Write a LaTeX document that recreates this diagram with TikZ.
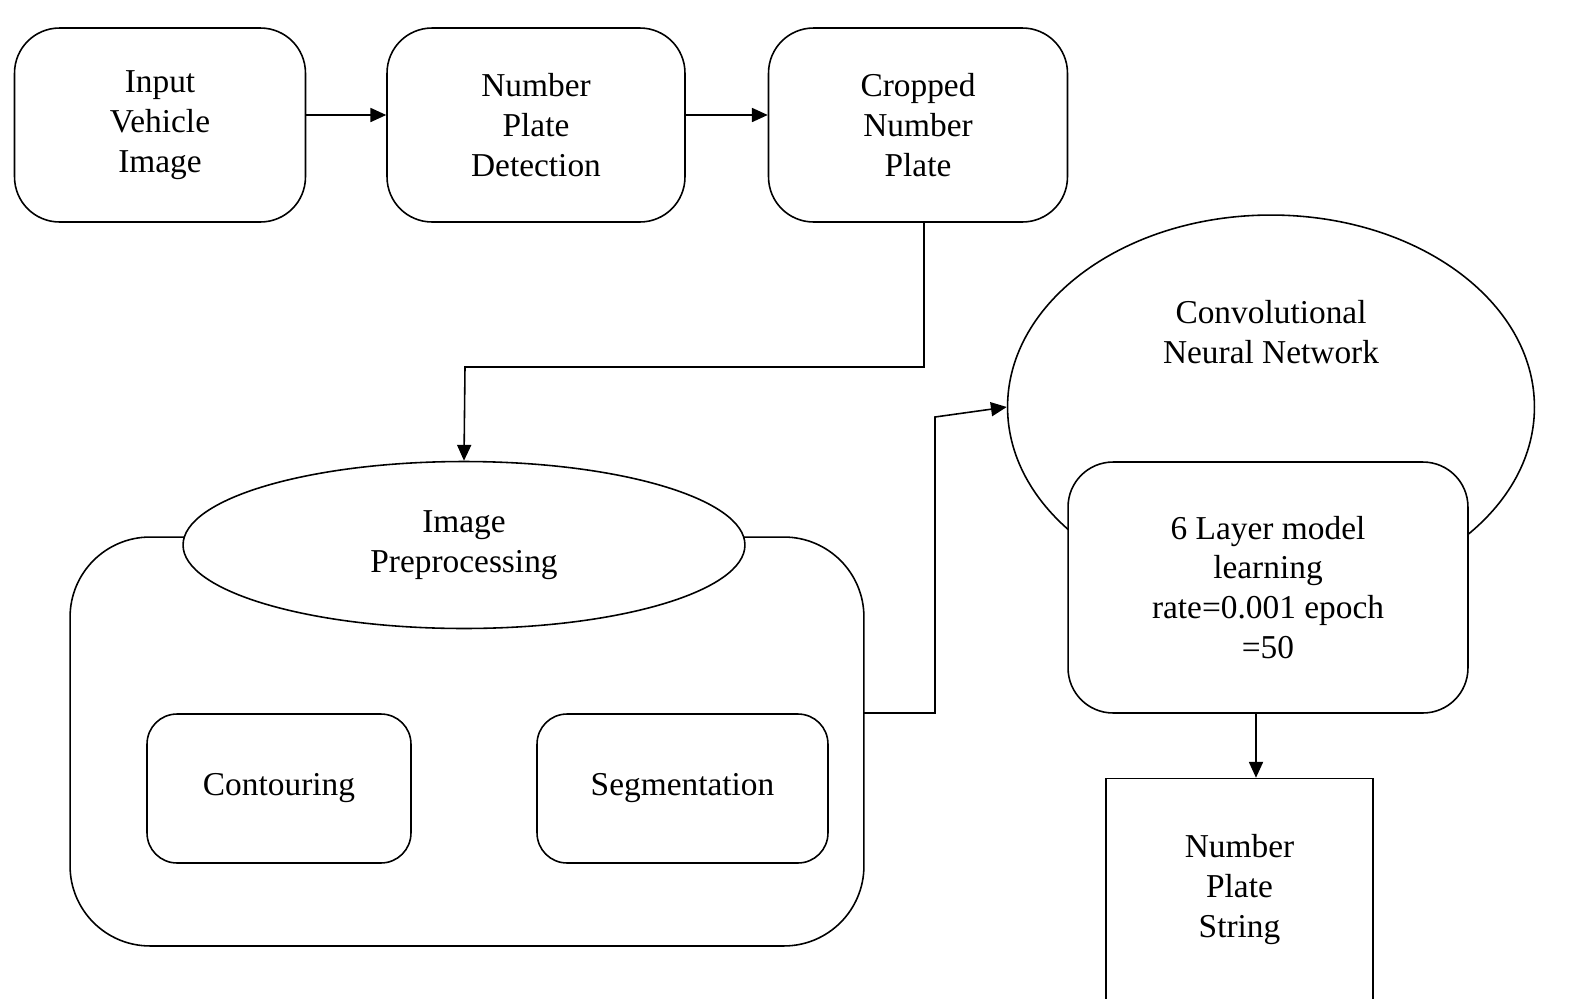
\documentclass[tikz,border=0pt]{standalone}
\usepackage{fontspec}
\setmainfont{Liberation Serif}
\usetikzlibrary{arrows.meta,positioning,shapes.geometric}
\tikzset{
  box/.style={draw, rounded corners=0.9cm, align=center, fill=white, line width=0.9pt},
  oval/.style={draw, ellipse, align=center, fill=white, line width=0.9pt},
  link/.style={-{Triangle[length=9pt,width=8pt]}, line width=0.9pt}
}
\begin{document}
\begin{tikzpicture}[x=0.02cm, y=-0.02cm, font=\fontsize{19}{22.7}\selectfont]
\useasboundingbox (0,0) rectangle (1583,998);
\clip (0,0) rectangle (1583,998);
% top row
\node[box, minimum width=5.82cm, minimum height=3.88cm] (input) at (160,125) {Input\\Vehicle\\Image};
\node[box, minimum width=5.96cm, minimum height=3.88cm] (detect) at (536,125) {Number\\Plate\\Detection};
\node[box, minimum width=5.98cm, minimum height=3.88cm] (crop) at (918,125) {Cropped\\Number\\Plate};
\draw[link] (input.east |- 0,115) -- (detect.west |- 0,115);
\draw[link] (detect.east |- 0,115) -- (crop.west |- 0,115);
% preprocessing
\node[box, rounded corners=1.6cm, minimum width=15.88cm, minimum height=8.18cm] (pre) at (467,741.5) {};
\node[oval, minimum width=11.24cm, minimum height=3.34cm] (prep) at (464,545) {Image\\Preprocessing};
\node[box, rounded corners=0.6cm, minimum width=5.28cm, minimum height=2.98cm] (cont) at (279,788.5) {Contouring};
\node[box, rounded corners=0.6cm, minimum width=5.82cm, minimum height=2.98cm] (seg) at (682.5,788.5) {Segmentation};
\draw[link] (crop.south -| 924,0) |- (465,367) -- (prep.north);
% network
\node[oval, minimum width=10.54cm, minimum height=7.68cm, text depth=3cm] (cnn) at (1271,407) {Convolutional\\Neural Network};
\node[box, minimum width=8cm, minimum height=5.02cm] (model) at (1268,587.5) {6 Layer model\\learning\\rate=0.001 epoch\\=50};
\coordinate (out) at (864,713);
\draw[link] (out) -| (935,417) -- (cnn.west);
\node[draw, line width=0.9pt, minimum width=5.34cm, minimum height=4.9cm, align=center, text depth=0.6cm] (str) at (1239.5,901) {Number\\Plate\\String};
\draw[link] (model.south -| 1256,0) -- (str.north -| 1256,0);
\end{tikzpicture}
\end{document}
